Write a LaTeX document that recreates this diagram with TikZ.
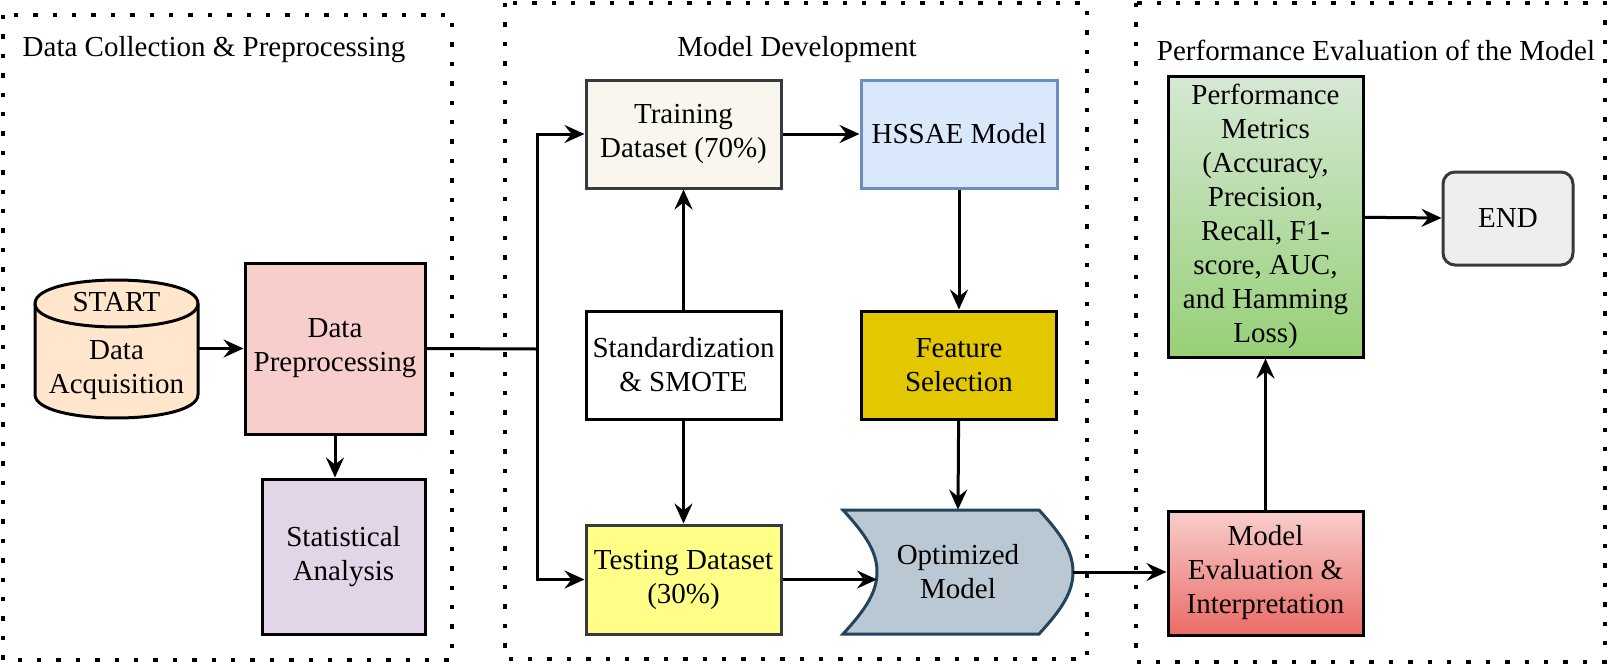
\documentclass[tikz,border=0pt]{standalone}
\usepackage{fontspec}
\setmainfont{Liberation Serif}
\newfontfamily\timesfont{Liberation Serif}
\usetikzlibrary{arrows.meta}

\definecolor{acqfill}{HTML}{FFE6CC}
\definecolor{prepfill}{HTML}{F8CECC}
\definecolor{statfill}{HTML}{E1D5E7}
\definecolor{trainfill}{HTML}{F9F7ED}
\definecolor{darkgray}{HTML}{36393D}
\definecolor{hssaefill}{HTML}{DAE8FC}
\definecolor{hssaedraw}{HTML}{6C8EBF}
\definecolor{featfill}{HTML}{E3C800}
\definecolor{testfill}{HTML}{FFFF88}
\definecolor{optfill}{HTML}{BAC8D3}
\definecolor{optdraw}{HTML}{23445D}
\definecolor{evaltop}{HTML}{F8CECC}
\definecolor{evalbottom}{HTML}{EA6B66}
\definecolor{mettop}{HTML}{D5E8D4}
\definecolor{metbottom}{HTML}{97D077}
\definecolor{endfill}{HTML}{EEEEEE}

\tikzset{
  block/.style={draw, line width=1.5pt, align=center, inner sep=0pt,
    minimum width=97.5pt, minimum height=54pt},
  frame/.style={line width=2.2pt, dash pattern=on 2.2pt off 7.5pt},
  link/.style={line width=1.5pt, ->},
}

\begin{document}
\begin{tikzpicture}[x=0.5pt, y=-0.5pt, >={Stealth[length=10pt,width=9pt,inset=3.5pt]},
  font=\timesfont\fontsize{14.5}{17}\selectfont]
\useasboundingbox (0,0) rectangle (1608,665);

% dotted frames
\draw[frame] (3,15) rectangle (452,660);
\draw[frame] (505,3) rectangle (1087,659);
\draw[frame] (1136,3) rectangle (1605,662);
\node (t1) at (214,50) {Data Collection \& Preprocessing};
\node (t2) at (797,50) {Model Development};
\node (t3) at (1376,50) {Performance Evaluation of the Model};

% data collection
\draw[line width=1.5pt, fill=acqfill] (35,303.5) -- (35,394.5)
  .. controls (35,425.8) and (198,425.8) .. (198,394.5) -- (198,303.5)
  .. controls (198,272.2) and (35,272.2) .. cycle;
\draw[line width=1.5pt] (35,303.5) .. controls (35,334.8) and (198,334.8) .. (198,303.5);
\node (start) at (116.5,302) {START};
\node[align=center, inner sep=0pt, minimum width=81.5pt] (acq) at (116.5,370) {Data\\Acquisition};
\node[block, fill=prepfill, minimum width=90pt, minimum height=85.5pt] (prep) at (335,348.5) {Data\\Preprocessing};
\node[block, fill=statfill, minimum width=81.5pt, minimum height=77.5pt] (stat) at (343.5,556.5) {Statistical\\Analysis};

% model development
\node[block, fill=trainfill, draw=darkgray] (train) at (683.5,134) {Training\\Dataset (70\%)};
\node[block, fill=hssaefill, draw=hssaedraw, minimum width=98pt] (hssae) at (959,134) {HSSAE Model};
\node[block, fill=white] (smote) at (683.5,365) {Standardization\\\& SMOTE};
\node[block, fill=featfill] (feat) at (959,365) {Feature\\Selection};
\node[block, fill=testfill, draw=darkgray, minimum height=54.5pt] (test) at (683.5,579.5) {Testing Dataset\\(30\%)};
\draw[line width=1.5pt, draw=optdraw, fill=optfill] (843,510) -- ++(196,0)
  .. controls +(23,25) and +(0,-20) .. ++(34,62)
  .. controls +(0,20) and +(23,-25) .. ++(-34,62) -- ++(-196,0)
  .. controls +(23,-25) and +(0,20) .. ++(34,-62)
  .. controls +(0,-20) and +(23,25) .. ++(-34,-62) -- cycle;
\node[align=center, inner sep=0pt, minimum width=115pt, minimum height=62pt] (opt) at (958,572) {Optimized\\Model};
\coordinate (optin) at (877,572);
\coordinate (split) at (537,349);

% evaluation
\node[block, top color=evaltop, bottom color=evalbottom, minimum height=62pt] (eval) at (1265.5,573) {Model\\Evaluation \&\\Interpretation};
\node[block, top color=mettop, bottom color=metbottom, minimum height=140.5pt] (metrics) at (1265.5,216.5)
  {Performance\\Metrics\\(Accuracy,\\Precision,\\Recall, F1-\\score, AUC,\\and Hamming\\Loss)};
\node[block, fill=endfill, draw=darkgray, rounded corners=6pt, minimum width=65pt, minimum height=46.5pt] (endn) at (1508,218.5) {END};

% connectors
\draw[link] (acq.east |- prep) -- (prep.west);
\draw[link] (prep.south) -- (prep.south |- stat.north);
\draw[line width=1.5pt] (prep.east) -- (split);
\draw[link] (split) |- (train);
\draw[link] (split) |- (test);
\draw[link] (smote) -- (train);
\draw[link] (smote) -- (test);
\draw[link] (train) -- (hssae);
\draw[link] (hssae) -- (feat);
\draw[link] (feat) -- (opt.north);
\draw[link] (test.east) -- (test.east -| optin);
\draw[link] (opt.east) -- (opt.east -| eval.west);
\draw[link] (eval) -- (metrics);
\draw[link] (metrics) -- (endn);
\end{tikzpicture}
\end{document}
